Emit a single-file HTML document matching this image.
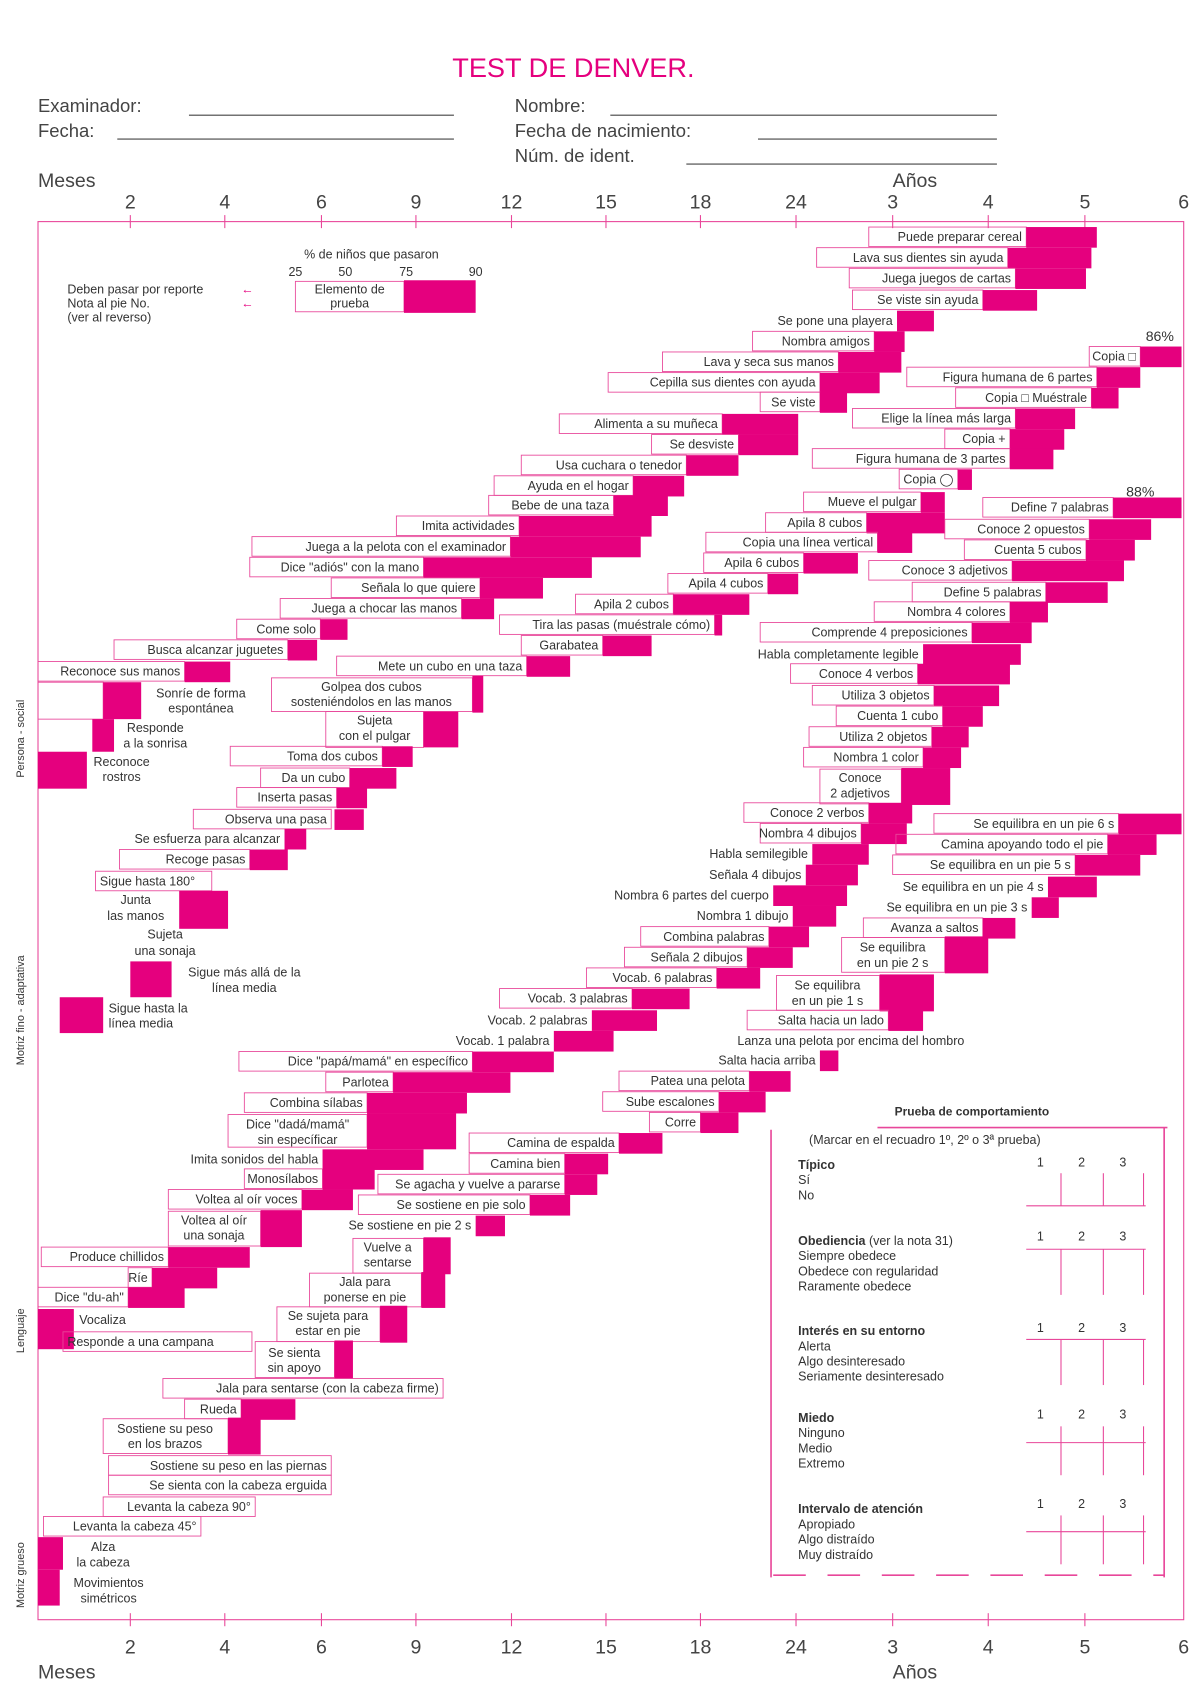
<!DOCTYPE html>
<html><head><meta charset="utf-8"><style>
html,body{margin:0;padding:0;background:#fff}
svg{display:block}
text{font-family:"Liberation Sans",sans-serif;fill:#333;font-size:11.5px}
.b{fill:#e5007e}
.l{fill:none;stroke:#e8479a;stroke-width:0.8}
.e{text-anchor:end}
.m{text-anchor:middle}
.ax{font-size:18px;fill:#444}
</style></head><body>
<svg width="1200" height="1699" viewBox="0 0 1105 1564" preserveAspectRatio="none" xmlns="http://www.w3.org/2000/svg">
<text x="528" y="71" class="m" style="font-size:25px;fill:#e5007e">TEST DE DENVER.</text>
<text x="35" y="103" style="font-size:17px;fill:#444">Examinador:</text>
<text x="35" y="126" style="font-size:17px;fill:#444">Fecha:</text>
<text x="474" y="103" style="font-size:17px;fill:#444">Nombre:</text>
<text x="474" y="126" style="font-size:17px;fill:#444">Fecha de nacimiento:</text>
<text x="474" y="149" style="font-size:17px;fill:#444">Núm. de ident.</text>
<g stroke="#444" stroke-width="1">
<line x1="174" y1="106" x2="418" y2="106"/><line x1="108" y1="128" x2="418" y2="128"/>
<line x1="562" y1="106" x2="918" y2="106"/><line x1="698" y1="128" x2="918" y2="128"/>
<line x1="632" y1="151" x2="918" y2="151"/>
</g>
<text x="35" y="172" class="ax">Meses</text><text x="822" y="172" class="ax">Años</text>
<text x="120" y="192" class="m ax">2</text><text x="207" y="192" class="m ax">4</text><text x="296" y="192" class="m ax">6</text><text x="383" y="192" class="m ax">9</text><text x="471" y="192" class="m ax">12</text><text x="558" y="192" class="m ax">15</text><text x="645" y="192" class="m ax">18</text><text x="733" y="192" class="m ax">24</text><text x="822" y="192" class="m ax">3</text><text x="910" y="192" class="m ax">4</text><text x="999" y="192" class="m ax">5</text><text x="1090" y="192" class="m ax">6</text>
<text x="120" y="1522" class="m ax">2</text><text x="207" y="1522" class="m ax">4</text><text x="296" y="1522" class="m ax">6</text><text x="383" y="1522" class="m ax">9</text><text x="471" y="1522" class="m ax">12</text><text x="558" y="1522" class="m ax">15</text><text x="645" y="1522" class="m ax">18</text><text x="733" y="1522" class="m ax">24</text><text x="822" y="1522" class="m ax">3</text><text x="910" y="1522" class="m ax">4</text><text x="999" y="1522" class="m ax">5</text><text x="1090" y="1522" class="m ax">6</text>
<text x="35" y="1545" class="ax">Meses</text><text x="822" y="1545" class="ax">Años</text>
<rect x="35" y="204" width="1055" height="1287" fill="none" stroke="#e8479a" stroke-width="1"/>
<g stroke="#e8479a" stroke-width="1">
<line x1="120" y1="198" x2="120" y2="210"/><line x1="207" y1="198" x2="207" y2="210"/><line x1="296" y1="198" x2="296" y2="210"/><line x1="383" y1="198" x2="383" y2="210"/><line x1="471" y1="198" x2="471" y2="210"/><line x1="558" y1="198" x2="558" y2="210"/><line x1="645" y1="198" x2="645" y2="210"/><line x1="733" y1="198" x2="733" y2="210"/><line x1="822" y1="198" x2="822" y2="210"/><line x1="910" y1="198" x2="910" y2="210"/><line x1="999" y1="198" x2="999" y2="210"/>
<line x1="120" y1="1485" x2="120" y2="1497"/><line x1="207" y1="1485" x2="207" y2="1497"/><line x1="296" y1="1485" x2="296" y2="1497"/><line x1="383" y1="1485" x2="383" y2="1497"/><line x1="471" y1="1485" x2="471" y2="1497"/><line x1="558" y1="1485" x2="558" y2="1497"/><line x1="645" y1="1485" x2="645" y2="1497"/><line x1="733" y1="1485" x2="733" y2="1497"/><line x1="822" y1="1485" x2="822" y2="1497"/><line x1="910" y1="1485" x2="910" y2="1497"/><line x1="999" y1="1485" x2="999" y2="1497"/>
</g>
<text x="342" y="238" class="m">% de niños que pasaron</text>
<text x="272" y="254" class="m">25</text><text x="318" y="254" class="m">50</text><text x="374" y="254" class="m">75</text><text x="438" y="254" class="m">90</text>
<rect class="l" x="272" y="259" width="100" height="28"/><rect class="b" x="372" y="258" width="66" height="30"/>
<text x="322" y="270" class="m">Elemento de</text><text x="322" y="283" class="m">prueba</text>
<text x="62" y="270">Deben pasar por reporte</text><text x="62" y="283">Nota al pie No.</text><text x="62" y="296">(ver al reverso)</text>
<text x="222" y="270" style="fill:#e5007e">←</text><text x="222" y="283" style="fill:#e5007e">←</text>
<text x="1068" y="314" class="m" style="font-size:13px">86%</text>
<text x="1050" y="457" class="m" style="font-size:13px">88%</text>
<text transform="translate(22,680) rotate(-90)" class="m" style="font-size:10px">Persona - social</text>
<text transform="translate(22,930) rotate(-90)" class="m" style="font-size:10px">Motriz fino - adaptativa</text>
<text transform="translate(22,1225) rotate(-90)" class="m" style="font-size:10px">Lenguaje</text>
<text transform="translate(22,1450) rotate(-90)" class="m" style="font-size:10px">Motriz grueso</text>

<g transform="translate(0,218)"><rect class="l" x="800" y="-9" width="145" height="18"/><rect class="b" x="945" y="-9" width="65" height="19"/><text x="941" y="4" class="e">Puede preparar cereal</text></g>
<g transform="translate(0,237)"><rect class="l" x="752" y="-9" width="176" height="18"/><rect class="b" x="928" y="-9" width="77" height="19"/><text x="924" y="4" class="e">Lava sus dientes sin ayuda</text></g>
<g transform="translate(0,256)"><rect class="l" x="782" y="-9" width="153" height="18"/><rect class="b" x="935" y="-9" width="65" height="19"/><text x="931" y="4" class="e">Juega juegos de cartas</text></g>
<g transform="translate(0,276)"><rect class="l" x="785" y="-9" width="120" height="18"/><rect class="b" x="905" y="-9" width="50" height="19"/><text x="901" y="4" class="e">Se viste sin ayuda</text></g>
<g transform="translate(0,295)"><rect class="b" x="826" y="-9" width="34" height="19"/><text x="822" y="4" class="e">Se pone una playera</text></g>
<g transform="translate(0,314)"><rect class="l" x="693" y="-9" width="112" height="18"/><rect class="b" x="805" y="-9" width="28" height="19"/><text x="801" y="4" class="e">Nombra amigos</text></g>
<g transform="translate(0,333)"><rect class="l" x="610" y="-9" width="162" height="18"/><rect class="b" x="772" y="-9" width="58" height="19"/><text x="768" y="4" class="e">Lava y seca sus manos</text></g>
<g transform="translate(0,352)"><rect class="l" x="560" y="-9" width="195" height="18"/><rect class="b" x="755" y="-9" width="55" height="19"/><text x="751" y="4" class="e">Cepilla sus dientes con ayuda</text></g>
<g transform="translate(0,370)"><rect class="l" x="700" y="-9" width="55" height="18"/><rect class="b" x="755" y="-9" width="25" height="19"/><text x="751" y="4" class="e">Se viste</text></g>
<g transform="translate(0,390)"><rect class="l" x="515" y="-9" width="150" height="18"/><rect class="b" x="665" y="-9" width="70" height="19"/><text x="661" y="4" class="e">Alimenta a su muñeca</text></g>
<g transform="translate(0,409)"><rect class="l" x="600" y="-9" width="80" height="18"/><rect class="b" x="680" y="-9" width="55" height="19"/><text x="676" y="4" class="e">Se desviste</text></g>
<g transform="translate(0,428)"><rect class="l" x="480" y="-9" width="152" height="18"/><rect class="b" x="632" y="-9" width="48" height="19"/><text x="628" y="4" class="e">Usa cuchara o tenedor</text></g>
<g transform="translate(0,447)"><rect class="l" x="455" y="-9" width="128" height="18"/><rect class="b" x="583" y="-9" width="47" height="19"/><text x="579" y="4" class="e">Ayuda en el hogar</text></g>
<g transform="translate(0,465)"><rect class="l" x="450" y="-9" width="115" height="18"/><rect class="b" x="565" y="-9" width="50" height="19"/><text x="561" y="4" class="e">Bebe de una taza</text></g>
<g transform="translate(0,484)"><rect class="l" x="365" y="-9" width="113" height="18"/><rect class="b" x="478" y="-9" width="122" height="19"/><text x="474" y="4" class="e">Imita actividades</text></g>
<g transform="translate(0,503)"><rect class="l" x="232" y="-9" width="238" height="18"/><rect class="b" x="470" y="-9" width="120" height="19"/><text x="466" y="4" class="e">Juega a la pelota con el examinador</text></g>
<g transform="translate(0,522)"><rect class="l" x="230" y="-9" width="160" height="18"/><rect class="b" x="390" y="-9" width="155" height="19"/><text x="386" y="4" class="e">Dice "adiós" con la mano</text></g>
<g transform="translate(0,541)"><rect class="l" x="305" y="-9" width="137" height="18"/><rect class="b" x="442" y="-9" width="58" height="19"/><text x="438" y="4" class="e">Señala lo que quiere</text></g>
<g transform="translate(0,560)"><rect class="l" x="258" y="-9" width="167" height="18"/><rect class="b" x="425" y="-9" width="30" height="19"/><text x="421" y="4" class="e">Juega a chocar las manos</text></g>
<g transform="translate(0,579)"><rect class="l" x="218" y="-9" width="77" height="18"/><rect class="b" x="295" y="-9" width="25" height="19"/><text x="291" y="4" class="e">Come solo</text></g>
<g transform="translate(0,598)"><rect class="l" x="105" y="-9" width="160" height="18"/><rect class="b" x="265" y="-9" width="27" height="19"/><text x="261" y="4" class="e">Busca alcanzar juguetes</text></g>
<g transform="translate(0,618)"><rect class="l" x="35" y="-9" width="135" height="18"/><rect class="b" x="170" y="-9" width="42" height="19"/><text x="166" y="4" class="e">Reconoce sus manos</text></g>
<rect class="l" x="35" y="628" width="60" height="34"/><rect class="b" x="95" y="628" width="35" height="34"/><text x="185" y="642" class="m">Sonríe de forma</text><text x="185" y="656" class="m">espontánea</text>
<rect class="b" x="85" y="662" width="20" height="30"/><text x="143" y="674" class="m">Responde</text><text x="143" y="688" class="m">a la sonrisa</text>
<rect class="b" x="35" y="692" width="45" height="34"/><text x="112" y="705" class="m">Reconoce</text><text x="112" y="719" class="m">rostros</text>

<g transform="translate(0,613)"><rect class="l" x="310" y="-9" width="175" height="18"/><rect class="b" x="485" y="-9" width="40" height="19"/><text x="481" y="4" class="e">Mete un cubo en una taza</text></g>
<rect class="l" x="250" y="624" width="185" height="31"/><rect class="b" x="435" y="622" width="10" height="34"/><text x="342" y="636" class="m">Golpea dos cubos</text><text x="342" y="650" class="m">sosteniéndolos en las manos</text>
<rect class="l" x="300" y="655" width="90" height="33"/><rect class="b" x="390" y="655" width="32" height="33"/><text x="345" y="667" class="m">Sujeta</text><text x="345" y="681" class="m">con el pulgar</text>
<g transform="translate(0,696)"><rect class="l" x="212" y="-9" width="140" height="18"/><rect class="b" x="352" y="-9" width="28" height="19"/><text x="348" y="4" class="e">Toma dos cubos</text></g>
<g transform="translate(0,716)"><rect class="l" x="240" y="-9" width="82" height="18"/><rect class="b" x="322" y="-9" width="43" height="19"/><text x="318" y="4" class="e">Da un cubo</text></g>
<g transform="translate(0,734)"><rect class="l" x="218" y="-9" width="92" height="18"/><rect class="b" x="310" y="-9" width="28" height="19"/><text x="306" y="4" class="e">Inserta pasas</text></g>
<g transform="translate(0,754)"><rect class="l" x="178" y="-9" width="127" height="18"/><rect class="b" x="308" y="-9" width="27" height="19"/><text x="301" y="4" class="e">Observa una pasa</text></g>
<g transform="translate(0,772)"><rect class="b" x="262" y="-9" width="20" height="19"/><text x="258" y="4" class="e">Se esfuerza para alcanzar</text></g>
<g transform="translate(0,791)"><rect class="l" x="110" y="-9" width="120" height="18"/><rect class="b" x="230" y="-9" width="35" height="19"/><text x="226" y="4" class="e">Recoge pasas</text></g>
<rect class="l" x="88" y="802" width="107" height="18"/><text x="92" y="815">Sigue hasta 180°</text>
<rect class="b" x="165" y="820" width="45" height="35"/><text x="125" y="832" class="m">Junta</text><text x="125" y="847" class="m">las manos</text>
<text x="152" y="864" class="m">Sujeta</text><text x="152" y="879" class="m">una sonaja</text>
<rect class="b" x="120" y="885" width="38" height="33"/><text x="225" y="899" class="m">Sigue más allá de la</text><text x="225" y="913" class="m">línea media</text>
<rect class="b" x="55" y="918" width="40" height="33"/><text x="100" y="932">Sigue hasta la</text><text x="100" y="946">línea media</text>

<g transform="translate(0,328)"><rect class="l" x="1003" y="-9" width="47" height="18"/><rect class="b" x="1050" y="-9" width="38" height="19"/><text x="1046" y="4" class="e">Copia □</text></g>
<g transform="translate(0,347)"><rect class="l" x="835" y="-9" width="175" height="18"/><rect class="b" x="1010" y="-9" width="40" height="19"/><text x="1006" y="4" class="e">Figura humana de 6 partes</text></g>
<g transform="translate(0,366)"><rect class="l" x="880" y="-9" width="125" height="18"/><rect class="b" x="1005" y="-9" width="25" height="19"/><text x="1001" y="4" class="e">Copia □ Muéstrale</text></g>
<g transform="translate(0,385)"><rect class="l" x="785" y="-9" width="150" height="18"/><rect class="b" x="935" y="-9" width="55" height="19"/><text x="931" y="4" class="e">Elige la línea más larga</text></g>
<g transform="translate(0,404)"><rect class="l" x="870" y="-9" width="60" height="18"/><rect class="b" x="930" y="-9" width="50" height="19"/><text x="926" y="4" class="e">Copia +</text></g>
<g transform="translate(0,422)"><rect class="l" x="748" y="-9" width="182" height="18"/><rect class="b" x="930" y="-9" width="40" height="19"/><text x="926" y="4" class="e">Figura humana de 3 partes</text></g>
<g transform="translate(0,441)"><rect class="l" x="828" y="-9" width="54" height="18"/><rect class="b" x="882" y="-9" width="13" height="19"/><text x="878" y="4" class="e">Copia ◯</text></g>
<g transform="translate(0,462)"><rect class="l" x="740" y="-9" width="108" height="18"/><rect class="b" x="848" y="-9" width="22" height="19"/><text x="844" y="4" class="e">Mueve el pulgar</text></g>
<g transform="translate(0,481)"><rect class="l" x="705" y="-9" width="93" height="18"/><rect class="b" x="798" y="-9" width="72" height="19"/><text x="794" y="4" class="e">Apila 8 cubos</text></g>
<g transform="translate(0,499)"><rect class="l" x="650" y="-9" width="158" height="18"/><rect class="b" x="808" y="-9" width="32" height="19"/><text x="804" y="4" class="e">Copia una línea vertical</text></g>
<g transform="translate(0,518)"><rect class="l" x="648" y="-9" width="92" height="18"/><rect class="b" x="740" y="-9" width="50" height="19"/><text x="736" y="4" class="e">Apila 6 cubos</text></g>
<g transform="translate(0,537)"><rect class="l" x="615" y="-9" width="92" height="18"/><rect class="b" x="707" y="-9" width="28" height="19"/><text x="703" y="4" class="e">Apila 4 cubos</text></g>
<g transform="translate(0,556)"><rect class="l" x="530" y="-9" width="90" height="18"/><rect class="b" x="620" y="-9" width="70" height="19"/><text x="616" y="4" class="e">Apila 2 cubos</text></g>
<g transform="translate(0,575)"><rect class="l" x="460" y="-9" width="198" height="18"/><rect class="b" x="658" y="-9" width="7" height="19"/><text x="654" y="4" class="e">Tira las pasas (muéstrale cómo)</text></g>
<g transform="translate(0,594)"><rect class="l" x="480" y="-9" width="75" height="18"/><rect class="b" x="555" y="-9" width="45" height="19"/><text x="551" y="4" class="e">Garabatea</text></g>

<g transform="translate(0,467)"><rect class="l" x="905" y="-9" width="120" height="18"/><rect class="b" x="1025" y="-9" width="63" height="19"/><text x="1021" y="4" class="e">Define 7 palabras</text></g>
<g transform="translate(0,487)"><rect class="l" x="870" y="-9" width="133" height="18"/><rect class="b" x="1003" y="-9" width="57" height="19"/><text x="999" y="4" class="e">Conoce 2 opuestos</text></g>
<g transform="translate(0,506)"><rect class="l" x="888" y="-9" width="112" height="18"/><rect class="b" x="1000" y="-9" width="45" height="19"/><text x="996" y="4" class="e">Cuenta 5 cubos</text></g>
<g transform="translate(0,525)"><rect class="l" x="800" y="-9" width="132" height="18"/><rect class="b" x="932" y="-9" width="103" height="19"/><text x="928" y="4" class="e">Conoce 3 adjetivos</text></g>
<g transform="translate(0,545)"><rect class="l" x="840" y="-9" width="123" height="18"/><rect class="b" x="963" y="-9" width="57" height="19"/><text x="959" y="4" class="e">Define 5 palabras</text></g>
<g transform="translate(0,563)"><rect class="l" x="805" y="-9" width="125" height="18"/><rect class="b" x="930" y="-9" width="35" height="19"/><text x="926" y="4" class="e">Nombra 4 colores</text></g>
<g transform="translate(0,582)"><rect class="l" x="700" y="-9" width="195" height="18"/><rect class="b" x="895" y="-9" width="55" height="19"/><text x="891" y="4" class="e">Comprende 4 preposiciones</text></g>
<g transform="translate(0,602)"><rect class="b" x="850" y="-9" width="90" height="19"/><text x="846" y="4" class="e">Habla completamente legible</text></g>
<g transform="translate(0,620)"><rect class="l" x="728" y="-9" width="117" height="18"/><rect class="b" x="845" y="-9" width="85" height="19"/><text x="841" y="4" class="e">Conoce 4 verbos</text></g>
<g transform="translate(0,640)"><rect class="l" x="748" y="-9" width="112" height="18"/><rect class="b" x="860" y="-9" width="60" height="19"/><text x="856" y="4" class="e">Utiliza 3 objetos</text></g>
<g transform="translate(0,659)"><rect class="l" x="770" y="-9" width="98" height="18"/><rect class="b" x="868" y="-9" width="37" height="19"/><text x="864" y="4" class="e">Cuenta 1 cubo</text></g>
<g transform="translate(0,678)"><rect class="l" x="745" y="-9" width="113" height="18"/><rect class="b" x="858" y="-9" width="34" height="19"/><text x="854" y="4" class="e">Utiliza 2 objetos</text></g>
<g transform="translate(0,697)"><rect class="l" x="740" y="-9" width="110" height="18"/><rect class="b" x="850" y="-9" width="35" height="19"/><text x="846" y="4" class="e">Nombra 1 color</text></g>
<rect class="l" x="755" y="708" width="75" height="32"/><rect class="b" x="830" y="707" width="45" height="34"/><text x="792" y="720" class="m">Conoce</text><text x="792" y="734" class="m">2 adjetivos</text>
<g transform="translate(0,748)"><rect class="l" x="685" y="-9" width="115" height="18"/><rect class="b" x="800" y="-9" width="40" height="19"/><text x="796" y="4" class="e">Conoce 2 verbos</text></g>
<g transform="translate(0,767)"><rect class="l" x="700" y="-9" width="93" height="18"/><rect class="b" x="793" y="-9" width="42" height="19"/><text x="789" y="4" class="e">Nombra 4 dibujos</text></g>
<g transform="translate(0,786)"><rect class="b" x="748" y="-9" width="52" height="19"/><text x="744" y="4" class="e">Habla semilegible</text></g>
<g transform="translate(0,805)"><rect class="b" x="742" y="-9" width="48" height="19"/><text x="738" y="4" class="e">Señala 4 dibujos</text></g>
<g transform="translate(0,824)"><rect class="b" x="712" y="-9" width="68" height="19"/><text x="708" y="4" class="e">Nombra 6 partes del cuerpo</text></g>
<g transform="translate(0,843)"><rect class="b" x="730" y="-9" width="40" height="19"/><text x="726" y="4" class="e">Nombra 1 dibujo</text></g>
<g transform="translate(0,862)"><rect class="l" x="590" y="-9" width="118" height="18"/><rect class="b" x="708" y="-9" width="37" height="19"/><text x="704" y="4" class="e">Combina palabras</text></g>
<g transform="translate(0,881)"><rect class="l" x="575" y="-9" width="113" height="18"/><rect class="b" x="688" y="-9" width="42" height="19"/><text x="684" y="4" class="e">Señala 2 dibujos</text></g>
<g transform="translate(0,900)"><rect class="l" x="540" y="-9" width="120" height="18"/><rect class="b" x="660" y="-9" width="40" height="19"/><text x="656" y="4" class="e">Vocab. 6 palabras</text></g>
<g transform="translate(0,919)"><rect class="l" x="460" y="-9" width="122" height="18"/><rect class="b" x="582" y="-9" width="53" height="19"/><text x="578" y="4" class="e">Vocab. 3 palabras</text></g>
<g transform="translate(0,939)"><rect class="b" x="545" y="-9" width="60" height="19"/><text x="541" y="4" class="e">Vocab. 2 palabras</text></g>
<g transform="translate(0,958)"><rect class="b" x="510" y="-9" width="55" height="19"/><text x="506" y="4" class="e">Vocab. 1 palabra</text></g>
<g transform="translate(0,977)"><rect class="l" x="220" y="-9" width="215" height="18"/><rect class="b" x="435" y="-9" width="75" height="19"/><text x="431" y="4" class="e">Dice "papá/mamá" en específico</text></g>
<g transform="translate(0,996)"><rect class="l" x="300" y="-9" width="62" height="18"/><rect class="b" x="362" y="-9" width="108" height="19"/><text x="358" y="4" class="e">Parlotea</text></g>
<g transform="translate(0,1015)"><rect class="l" x="225" y="-9" width="113" height="18"/><rect class="b" x="338" y="-9" width="92" height="19"/><text x="334" y="4" class="e">Combina sílabas</text></g>
<rect class="l" x="210" y="1026" width="128" height="30"/><rect class="b" x="338" y="1025" width="82" height="33"/><text x="274" y="1039" class="m">Dice "dadá/mamá"</text><text x="274" y="1053" class="m">sin específicar</text>
<g transform="translate(0,1067)"><rect class="b" x="297" y="-9" width="93" height="19"/><text x="293" y="4" class="e">Imita sonidos del habla</text></g>
<g transform="translate(0,1085)"><rect class="l" x="225" y="-9" width="72" height="18"/><rect class="b" x="297" y="-9" width="48" height="19"/><text x="293" y="4" class="e">Monosílabos</text></g>
<g transform="translate(0,1104)"><rect class="l" x="155" y="-9" width="123" height="18"/><rect class="b" x="278" y="-9" width="47" height="19"/><text x="274" y="4" class="e">Voltea al oír voces</text></g>
<rect class="l" x="155" y="1115" width="85" height="32"/><rect class="b" x="240" y="1114" width="38" height="34"/><text x="197" y="1127" class="m">Voltea al oír</text><text x="197" y="1141" class="m">una sonaja</text>
<g transform="translate(0,1157)"><rect class="l" x="38" y="-9" width="117" height="18"/><rect class="b" x="155" y="-9" width="75" height="19"/><text x="151" y="4" class="e">Produce chillidos</text></g>
<g transform="translate(0,1176)"><rect class="l" x="118" y="-9" width="22" height="18"/><rect class="b" x="140" y="-9" width="60" height="19"/><text x="136" y="4" class="e">Ríe</text></g>
<g transform="translate(0,1194)"><rect class="l" x="35" y="-9" width="83" height="18"/><rect class="b" x="118" y="-9" width="52" height="19"/><text x="114" y="4" class="e">Dice "du-ah"</text></g>
<rect class="b" x="35" y="1205" width="33" height="37"/><text x="73" y="1219">Vocaliza</text>
<rect class="l" x="58" y="1226" width="174" height="18"/><text x="62" y="1239">Responde a una campana</text>

<g transform="translate(0,758)"><rect class="l" x="860" y="-9" width="170" height="18"/><rect class="b" x="1030" y="-9" width="58" height="19"/><text x="1026" y="4" class="e">Se equilibra en un pie 6 s</text></g>
<g transform="translate(0,777)"><rect class="l" x="825" y="-9" width="195" height="18"/><rect class="b" x="1020" y="-9" width="45" height="19"/><text x="1016" y="4" class="e">Camina apoyando todo el pie</text></g>
<g transform="translate(0,796)"><rect class="l" x="822" y="-9" width="168" height="18"/><rect class="b" x="990" y="-9" width="60" height="19"/><text x="986" y="4" class="e">Se equilibra en un pie 5 s</text></g>
<g transform="translate(0,816)"><rect class="b" x="965" y="-9" width="45" height="19"/><text x="961" y="4" class="e">Se equilibra en un pie 4 s</text></g>
<g transform="translate(0,835)"><rect class="b" x="950" y="-9" width="25" height="19"/><text x="946" y="4" class="e">Se equilibra en un pie 3 s</text></g>
<g transform="translate(0,854)"><rect class="l" x="795" y="-9" width="110" height="18"/><rect class="b" x="905" y="-9" width="30" height="19"/><text x="901" y="4" class="e">Avanza a saltos</text></g>
<rect class="l" x="775" y="863" width="95" height="32"/><rect class="b" x="870" y="862" width="40" height="34"/><text x="822" y="876" class="m">Se equilibra</text><text x="822" y="890" class="m">en un pie 2 s</text>
<rect class="l" x="715" y="898" width="95" height="32"/><rect class="b" x="810" y="897" width="50" height="34"/><text x="762" y="911" class="m">Se equilibra</text><text x="762" y="925" class="m">en un pie 1 s</text>
<g transform="translate(0,939)"><rect class="l" x="688" y="-9" width="130" height="18"/><rect class="b" x="818" y="-9" width="32" height="19"/><text x="814" y="4" class="e">Salta hacia un lado</text></g>
<g transform="translate(0,958)"><text x="888" y="4" class="e">Lanza una pelota por encima del hombro</text></g>
<g transform="translate(0,976)"><rect class="b" x="755" y="-9" width="17" height="19"/><text x="751" y="4" class="e">Salta hacia arriba</text></g>
<g transform="translate(0,995)"><rect class="l" x="570" y="-9" width="120" height="18"/><rect class="b" x="690" y="-9" width="38" height="19"/><text x="686" y="4" class="e">Patea una pelota</text></g>
<g transform="translate(0,1014)"><rect class="l" x="555" y="-9" width="107" height="18"/><rect class="b" x="662" y="-9" width="43" height="19"/><text x="658" y="4" class="e">Sube escalones</text></g>
<g transform="translate(0,1033)"><rect class="l" x="598" y="-9" width="47" height="18"/><rect class="b" x="645" y="-9" width="35" height="19"/><text x="641" y="4" class="e">Corre</text></g>
<g transform="translate(0,1052)"><rect class="l" x="432" y="-9" width="138" height="18"/><rect class="b" x="570" y="-9" width="40" height="19"/><text x="566" y="4" class="e">Camina de espalda</text></g>
<g transform="translate(0,1071)"><rect class="l" x="432" y="-9" width="88" height="18"/><rect class="b" x="520" y="-9" width="40" height="19"/><text x="516" y="4" class="e">Camina bien</text></g>
<g transform="translate(0,1090)"><rect class="l" x="348" y="-9" width="172" height="18"/><rect class="b" x="520" y="-9" width="30" height="19"/><text x="516" y="4" class="e">Se agacha y vuelve a pararse</text></g>
<g transform="translate(0,1109)"><rect class="l" x="330" y="-9" width="158" height="18"/><rect class="b" x="488" y="-9" width="37" height="19"/><text x="484" y="4" class="e">Se sostiene en pie solo</text></g>
<g transform="translate(0,1128)"><rect class="b" x="438" y="-9" width="27" height="19"/><text x="434" y="4" class="e">Se sostiene en pie 2 s</text></g>
<rect class="l" x="325" y="1140" width="65" height="32"/><rect class="b" x="390" y="1139" width="25" height="34"/><text x="357" y="1152" class="m">Vuelve a</text><text x="357" y="1166" class="m">sentarse</text>
<rect class="l" x="285" y="1172" width="103" height="31"/><rect class="b" x="388" y="1171" width="22" height="33"/><text x="336" y="1184" class="m">Jala para</text><text x="336" y="1198" class="m">ponerse en pie</text>
<rect class="l" x="255" y="1203" width="95" height="32"/><rect class="b" x="350" y="1202" width="25" height="34"/><text x="302" y="1215" class="m">Se sujeta para</text><text x="302" y="1229" class="m">estar en pie</text>
<rect class="l" x="235" y="1235" width="73" height="33"/><rect class="b" x="308" y="1234" width="17" height="35"/><text x="271" y="1249" class="m">Se sienta</text><text x="271" y="1263" class="m">sin apoyo</text>
<g transform="translate(0,1278)"><rect class="l" x="150" y="-9" width="258" height="18"/><text x="404" y="4" class="e">Jala para sentarse (con la cabeza firme)</text></g>
<g transform="translate(0,1297)"><rect class="l" x="170" y="-9" width="52" height="18"/><rect class="b" x="222" y="-9" width="50" height="19"/><text x="218" y="4" class="e">Rueda</text></g>
<rect class="l" x="95" y="1306" width="115" height="32"/><rect class="b" x="210" y="1305" width="30" height="34"/><text x="152" y="1319" class="m">Sostiene su peso</text><text x="152" y="1333" class="m">en los brazos</text>
<g transform="translate(0,1349)"><rect class="l" x="100" y="-9" width="205" height="18"/><text x="301" y="4" class="e">Sostiene su peso en las piernas</text></g>
<g transform="translate(0,1367)"><rect class="l" x="100" y="-9" width="205" height="18"/><text x="301" y="4" class="e">Se sienta con la cabeza erguida</text></g>
<g transform="translate(0,1387)"><rect class="l" x="95" y="-9" width="140" height="18"/><text x="231" y="4" class="e">Levanta la cabeza 90°</text></g>
<g transform="translate(0,1405)"><rect class="l" x="40" y="-9" width="145" height="18"/><text x="181" y="4" class="e">Levanta la cabeza 45°</text></g>
<rect class="b" x="35" y="1415" width="23" height="30"/><text x="95" y="1428" class="m">Alza</text><text x="95" y="1442" class="m">la cabeza</text>
<rect class="b" x="35" y="1445" width="20" height="33"/><text x="100" y="1461" class="m">Movimientos</text><text x="100" y="1475" class="m">simétricos</text>

<text x="895" y="1027" class="m" style="font-weight:bold;font-size:11px">Prueba de comportamiento</text>
<g stroke="#e8479a" stroke-width="1.5" fill="none">
<line x1="710" y1="1040" x2="710" y2="1452"/>
<line x1="808" y1="1038" x2="1075" y2="1038"/>
<line x1="1072" y1="1038" x2="1072" y2="1452"/>
<line x1="712" y1="1450" x2="1072" y2="1450" stroke-dasharray="30,20"/>
</g>
<text x="745" y="1053">(Marcar en el recuadro 1º, 2º o 3ª prueba)</text>
<text x="735" y="1076" style="font-weight:bold">Típico</text><text x="735" y="1090">Sí</text><text x="735" y="1104">No</text>
<text x="735" y="1146"><tspan style="font-weight:bold">Obediencia</tspan> (ver la nota 31)</text><text x="735" y="1160">Siempre obedece</text><text x="735" y="1174">Obedece con regularidad</text><text x="735" y="1188">Raramente obedece</text>
<text x="735" y="1229" style="font-weight:bold">Interés en su entorno</text><text x="735" y="1243">Alerta</text><text x="735" y="1257">Algo desinteresado</text><text x="735" y="1271">Seriamente desinteresado</text>
<text x="735" y="1309" style="font-weight:bold">Miedo</text><text x="735" y="1323">Ninguno</text><text x="735" y="1337">Medio</text><text x="735" y="1351">Extremo</text>
<text x="735" y="1393" style="font-weight:bold">Intervalo de atención</text><text x="735" y="1407">Apropiado</text><text x="735" y="1421">Algo distraído</text><text x="735" y="1435">Muy distraído</text>
<text x="958" y="1074" class="m">1</text><text x="996" y="1074" class="m">2</text><text x="1034" y="1074" class="m">3</text>
<text x="958" y="1142" class="m">1</text><text x="996" y="1142" class="m">2</text><text x="1034" y="1142" class="m">3</text>
<text x="958" y="1226" class="m">1</text><text x="996" y="1226" class="m">2</text><text x="1034" y="1226" class="m">3</text>
<text x="958" y="1306" class="m">1</text><text x="996" y="1306" class="m">2</text><text x="1034" y="1306" class="m">3</text>
<text x="958" y="1388" class="m">1</text><text x="996" y="1388" class="m">2</text><text x="1034" y="1388" class="m">3</text>
<g stroke="#e8479a" stroke-width="1" fill="none">
<line x1="945" y1="1110" x2="1055" y2="1110"/><line x1="977" y1="1080" x2="977" y2="1110"/><line x1="1016" y1="1080" x2="1016" y2="1110"/><line x1="1053" y1="1080" x2="1053" y2="1110"/>
<line x1="945" y1="1150" x2="1055" y2="1150"/><line x1="977" y1="1150" x2="977" y2="1192"/><line x1="1016" y1="1150" x2="1016" y2="1192"/><line x1="1053" y1="1150" x2="1053" y2="1192"/>
<line x1="945" y1="1233" x2="1055" y2="1233"/><line x1="977" y1="1233" x2="977" y2="1275"/><line x1="1016" y1="1233" x2="1016" y2="1275"/><line x1="1053" y1="1233" x2="1053" y2="1275"/>
<line x1="945" y1="1328" x2="1055" y2="1328"/><line x1="977" y1="1313" x2="977" y2="1358"/><line x1="1016" y1="1313" x2="1016" y2="1358"/><line x1="1053" y1="1313" x2="1053" y2="1358"/>
<line x1="945" y1="1410" x2="1055" y2="1410"/><line x1="977" y1="1395" x2="977" y2="1440"/><line x1="1016" y1="1395" x2="1016" y2="1440"/><line x1="1053" y1="1395" x2="1053" y2="1440"/>
</g>
</svg>
</body></html>
